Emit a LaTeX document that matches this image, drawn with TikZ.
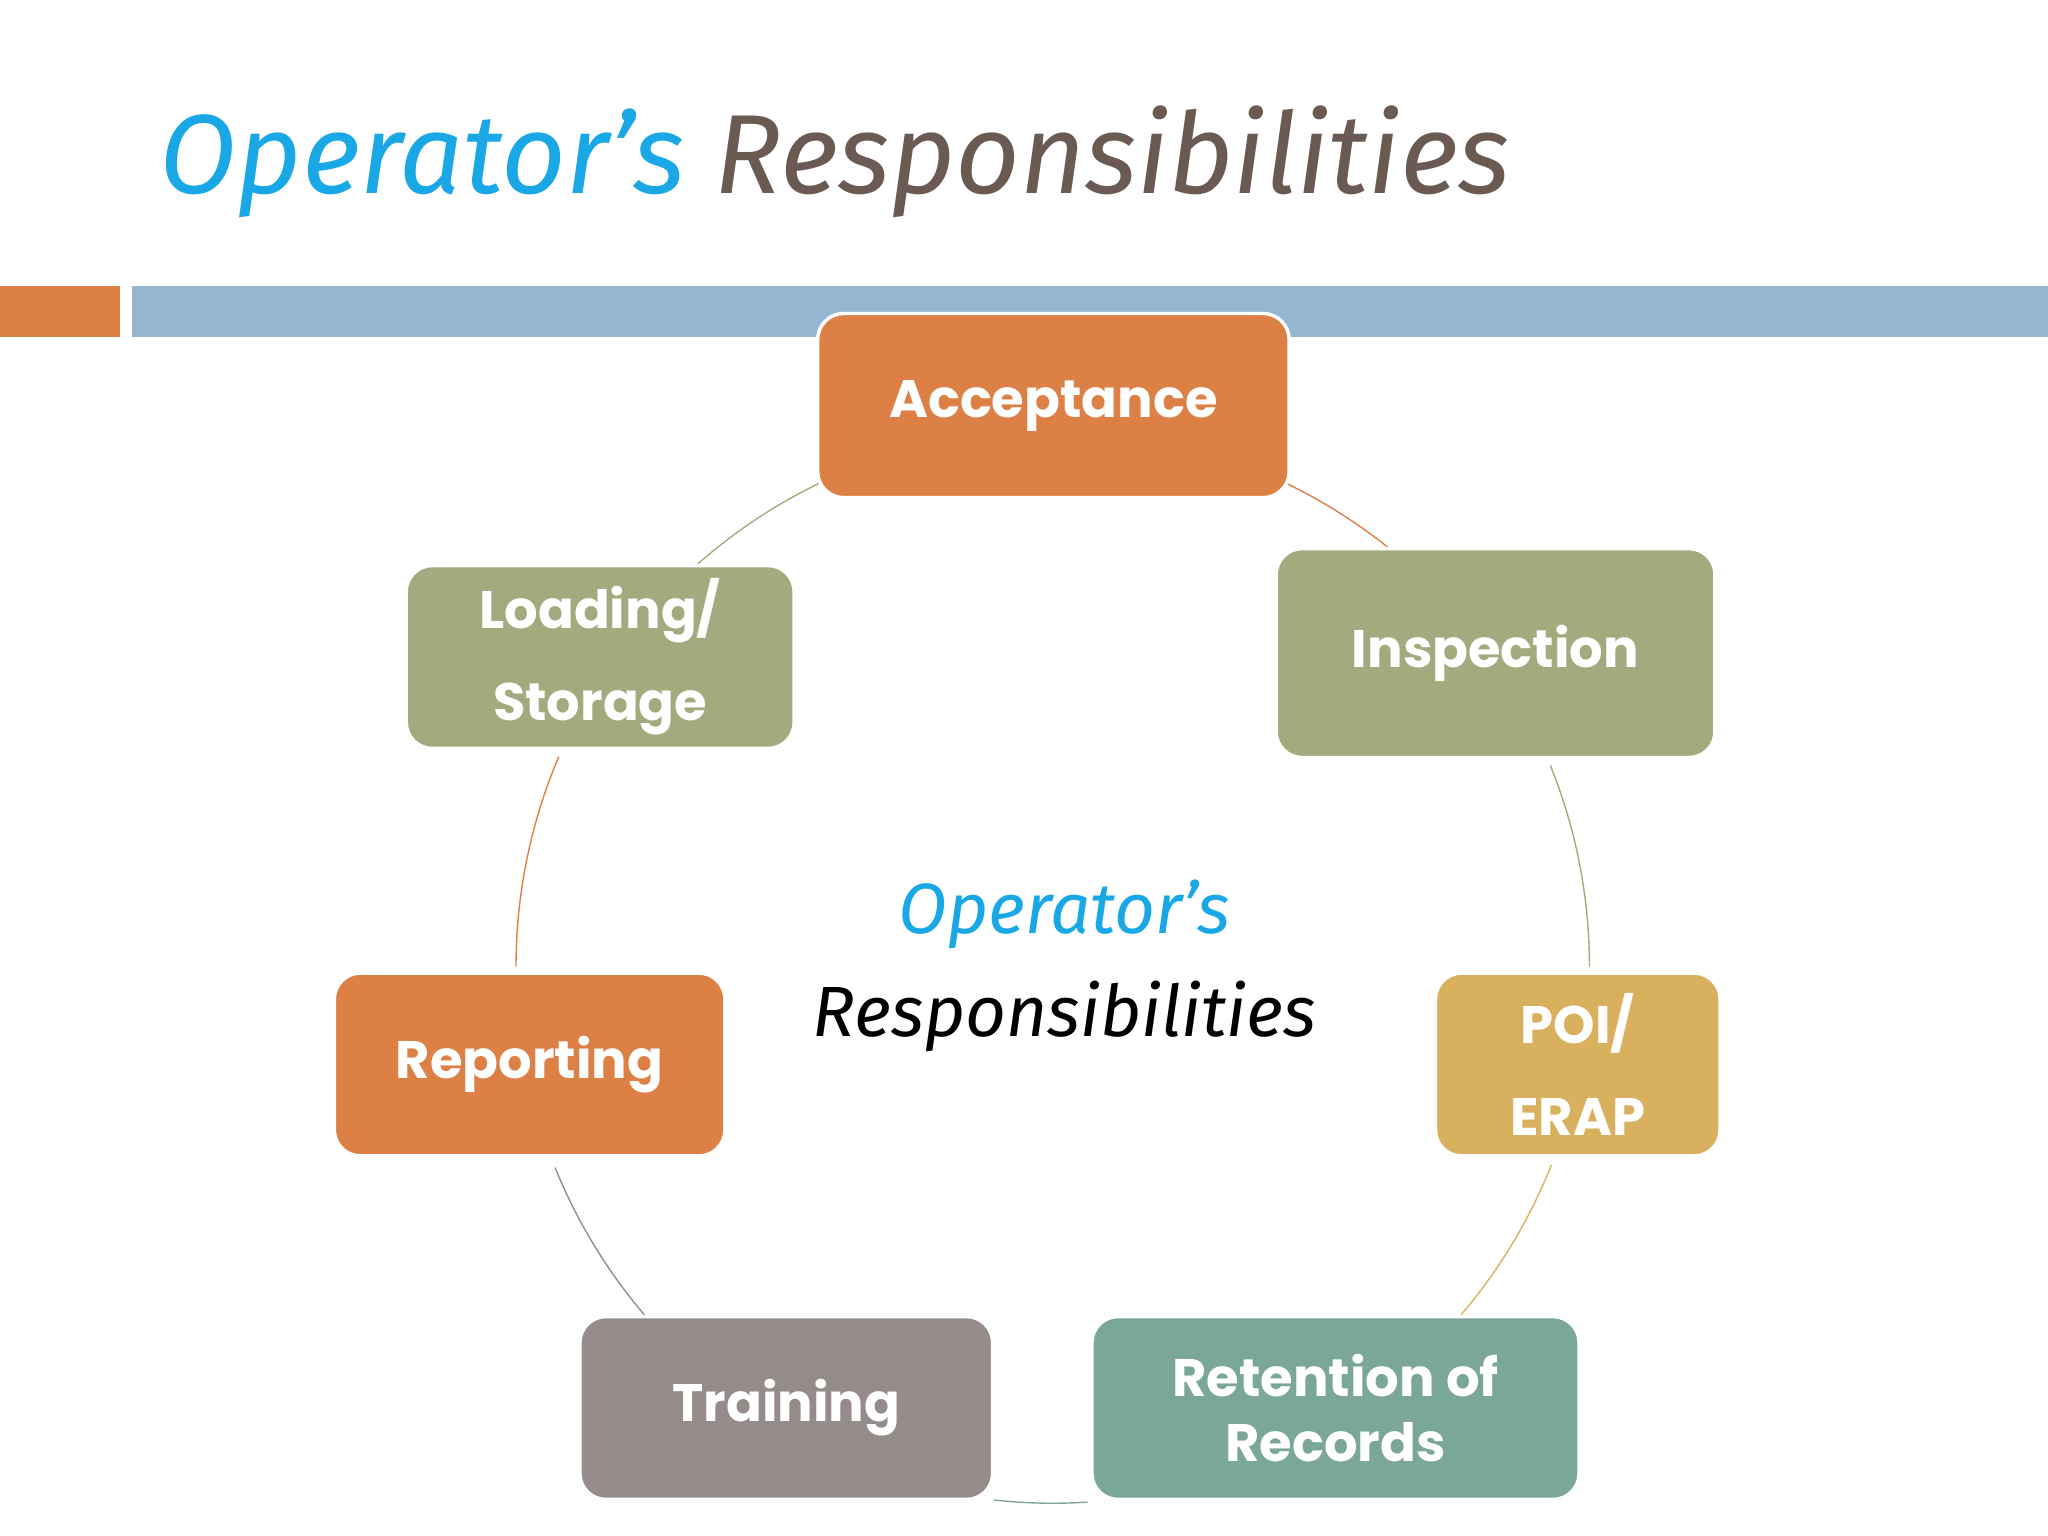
\documentclass[tikz,border=0pt]{standalone}
\usepackage{fontspec}
\setmainfont{Poppins}
\newfontfamily\titlefont{Fira Sans}
\definecolor{cor}{HTML}{DC8046}
\definecolor{col}{HTML}{A5A97E}
\definecolor{cgo}{HTML}{D9B05E}
\definecolor{cgr}{HTML}{958B8A}
\definecolor{cte}{HTML}{7BA797}
\definecolor{cbl}{HTML}{95B6D0}
\definecolor{ctb}{HTML}{1AA7E6}
\definecolor{cbr}{HTML}{6B5A52}
\tikzset{
 box/.style={draw=white,line width=1.5pt,rounded corners=0.4cm,text=white,align=center,
   font=\fontsize{23}{40}\selectfont\bfseries},
 ring/.style={line width=0.6pt}
}
\begin{document}
\begin{tikzpicture}[x=0.02cm,y=-0.02cm]
\useasboundingbox (0,0) rectangle (1568,1176);
\fill[white] (0,0) rectangle (1568,1176);
\fill[cor] (0,219) rectangle (92,258);
\fill[cbl] (101,219) rectangle (1568,258);
\node[anchor=base west,inner sep=0,font=\titlefont\itshape\fontsize{49}{52}\selectfont] (title) at (122,148)
 {\textcolor{ctb}{Operator’s} \textcolor{cbr}{Responsibilities}};
\coordinate (c) at (806,740);
\draw[ring,cor] ([shift={(64.5:8.22cm)}]c) arc[start angle=64.5,end angle=51,radius=8.22cm];
\draw[ring,col] ([shift={(132.9:8.22cm)}]c) arc[start angle=132.9,end angle=115,radius=8.22cm];
\draw[ring,cor] ([shift={(157:8.22cm)}]c) arc[start angle=157,end angle=180,radius=8.22cm];
\draw[ring,cgr] ([shift={(202:8.22cm)}]c) arc[start angle=202,end angle=221.6,radius=8.22cm];
\draw[ring,cte] ([shift={(263.7:8.22cm)}]c) arc[start angle=263.7,end angle=273.7,radius=8.22cm];
\draw[ring,cgo] ([shift={(-40.8:8.22cm)}]c) arc[start angle=-40.8,end angle=-21.7,radius=8.22cm];
\draw[ring,col] ([shift={(22:8.22cm)}]c) arc[start angle=22,end angle=0,radius=8.22cm];
\node[box,fill=cor,minimum width=361*0.02cm,minimum height=141*0.02cm] (acc) at (806.5,310.5) {Acceptance};
\node[box,fill=col,minimum width=336*0.02cm,minimum height=160*0.02cm] (ins) at (1145,500) {Inspection};
\node[box,fill=col,minimum width=297*0.02cm,minimum height=140*0.02cm] (load) at (459.5,503) {Loading/\\Storage};
\node[box,fill=cor,minimum width=299*0.02cm,minimum height=140*0.02cm] (rep) at (405.5,815) {Reporting};
\node[box,fill=cgo,minimum width=218*0.02cm,minimum height=140*0.02cm] (poi) at (1208,815) {POI/\\ERAP};
\node[box,fill=cgr,minimum width=316*0.02cm,minimum height=140*0.02cm] (tr) at (602,1078) {Training};
\node[box,fill=cte,minimum width=373*0.02cm,minimum height=140*0.02cm,font=\fontsize{23}{28}\selectfont\bfseries] (ret) at (1022.5,1078) {Retention of\\Records};
\node[font=\titlefont\itshape\fontsize{31}{34}\selectfont,text=ctb] (m1) at (815,700) {Operator’s};
\node[font=\titlefont\itshape\fontsize{31}{34}\selectfont,text=black] (m2) at (815,778) {Responsibilities};
\end{tikzpicture}
\end{document}
